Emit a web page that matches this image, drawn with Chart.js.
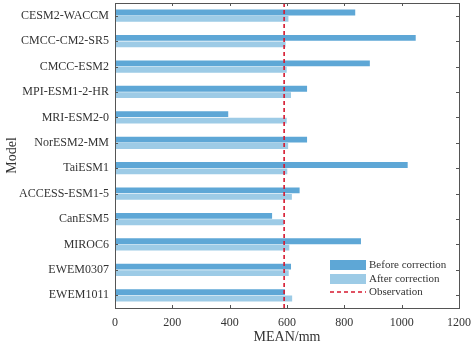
<!DOCTYPE html>
<html>
<head>
<meta charset="utf-8">
<script src="https://cdn.jsdelivr.net/npm/chart.js@4"></script>
<style>
  html, body { margin: 0; padding: 0; background: #fff; }
  #wrap { width: 474px; height: 347px; }
</style>
</head>
<body>
<div id="wrap"><canvas id="myChart"></canvas></div>
<script>
// data
const models = ['CESM2-WACCM', 'CMCC-CM2-SR5', 'CMCC-ESM2', 'MPI-ESM1-2-HR', 'MRI-ESM2-0', 'NorESM2-MM',
  'TaiESM1', 'ACCESS-ESM1-5', 'CanESM5', 'MIROC6', 'EWEM0307', 'EWEM1011'];
const beforeCorrection = [838, 1049, 889, 670, 395, 670, 1021, 644, 548, 858, 614, 593];
const afterCorrection = [605, 595, 599, 614, 599, 604, 601, 617, 589, 608, 606, 618];
const observation = 590;
const xTicks = [0, 200, 400, 600, 800, 1000, 1200];

const FONT = "'Liberation Serif', 'Times New Roman', serif";
const DARK = '#5ea7d6';
const LIGHT = '#9dcbe6';

// box, inward ticks, observation line and legend
const decorations = {
  id: 'decorations',
  afterDatasetsDraw(chart) {
    const ctx = chart.ctx;
    const a = chart.chartArea;
    const x = chart.scales.x, y = chart.scales.y;
    ctx.save();
    // observation line
    const ox = x.getPixelForValue(observation);
    ctx.strokeStyle = '#d6182f';
    ctx.lineWidth = 1.6;
    ctx.setLineDash([4, 3]);
    ctx.beginPath();
    ctx.moveTo(ox, a.top);
    ctx.lineTo(ox, a.bottom);
    ctx.stroke();
    ctx.setLineDash([]);

    // axes box
    ctx.strokeStyle = '#555';
    ctx.lineWidth = 1;
    ctx.strokeRect(a.left + 0.5, a.top + 0.5, a.right - a.left, a.bottom - a.top);
    ctx.beginPath();
    xTicks.forEach(v => {
      const px = Math.round(x.getPixelForValue(v)) + 0.5;
      ctx.moveTo(px, a.bottom); ctx.lineTo(px, a.bottom - 3);
      ctx.moveTo(px, a.top); ctx.lineTo(px, a.top + 3);
    });
    models.forEach((m, i) => {
      const py = Math.round(y.getPixelForValue(i)) + 0.5;
      ctx.moveTo(a.left, py); ctx.lineTo(a.left + 3, py);
      ctx.moveTo(a.right, py); ctx.lineTo(a.right - 3, py);
    });
    ctx.stroke();

    // legend
    const lx = 330, ly = 260;
    ctx.fillStyle = DARK;
    ctx.fillRect(lx, ly, 36, 10);
    ctx.fillStyle = LIGHT;
    ctx.fillRect(lx, ly + 14, 36, 10);
    ctx.strokeStyle = '#d6182f';
    ctx.lineWidth = 1.6;
    ctx.setLineDash([4, 3]);
    ctx.beginPath();
    ctx.moveTo(lx, ly + 32); ctx.lineTo(lx + 36, ly + 32);
    ctx.stroke();
    ctx.setLineDash([]);
    ctx.fillStyle = '#333';
    ctx.font = '11px ' + FONT;
    ctx.textBaseline = 'middle';
    ctx.textAlign = 'left';
    ctx.fillText('Before correction', lx + 39, ly + 5);
    ctx.fillText('After correction', lx + 39, ly + 19);
    ctx.fillText('Observation', lx + 39, ly + 32);
    ctx.restore();
  }
};

new Chart(document.getElementById('myChart'), {
  type: 'bar',
  data: {
    labels: models,
    datasets: [
      { label: 'Before correction', data: beforeCorrection, backgroundColor: DARK,
        barPercentage: 0.92, categoryPercentage: 0.5 },
      { label: 'After correction', data: afterCorrection, backgroundColor: LIGHT,
        barPercentage: 0.92, categoryPercentage: 0.5 }
    ]
  },
  options: {
    indexAxis: 'y',
    responsive: true,
    maintainAspectRatio: false,
    animation: false,
    layout: { padding: { top: 3, right: 15, left: 0, bottom: 0 } },
    plugins: { legend: { display: false }, tooltip: { enabled: false } },
    scales: {
      x: {
        min: 0, max: 1200,
        afterBuildTicks: s => { s.ticks = xTicks.map(v => ({ value: v })); },
        afterFit: s => { s.height = 39; s.paddingLeft = 0; s.paddingRight = 0; },
        grid: { display: false, drawTicks: false },
        border: { display: false },
        ticks: { color: '#333', font: { family: FONT, size: 12 }, padding: 8, maxRotation: 0,
          callback: v => String(v) },
        title: { display: true, text: 'MEAN/mm', color: '#333', font: { family: FONT, size: 14 }, padding: { top: 0, bottom: 1 } }
      },
      y: {
        afterFit: s => { s.width = 115; s.paddingTop = 0; s.paddingBottom = 0; },
        grid: { display: false, drawTicks: false },
        border: { display: false },
        ticks: { color: '#333', font: { family: FONT, size: 12 }, padding: 6 },
        title: { display: true, text: 'Model', color: '#333', font: { family: FONT, size: 14 }, padding: { bottom: 0 } }
      }
    }
  },
  plugins: [decorations]
});
</script>
</body>
</html>
